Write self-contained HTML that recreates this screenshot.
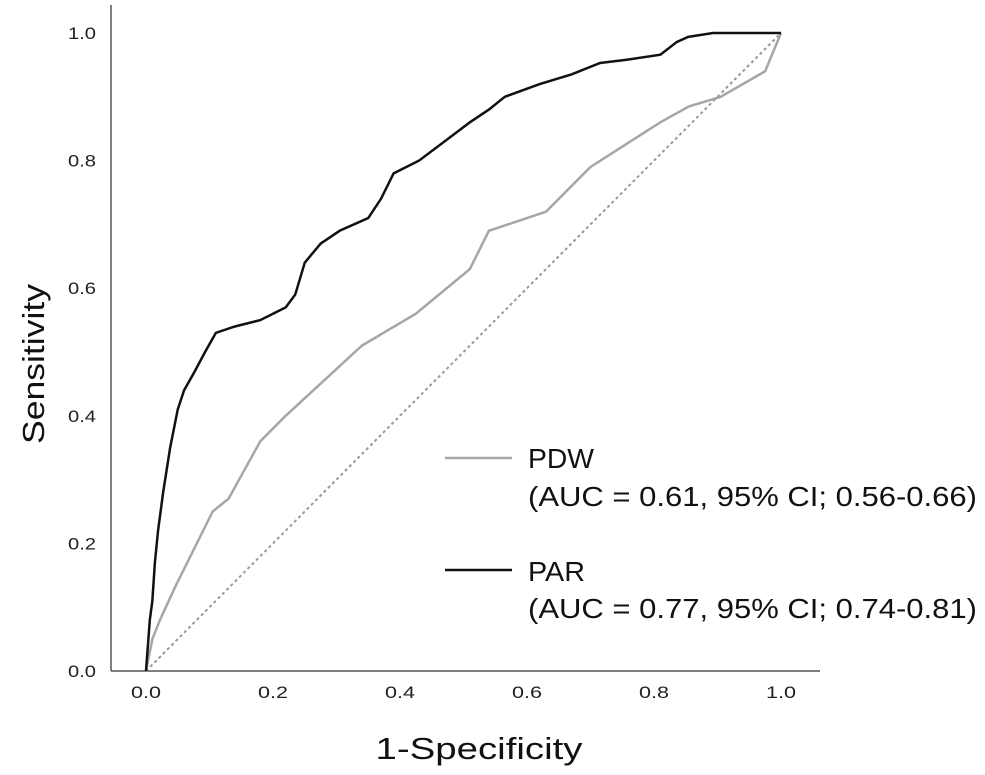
<!DOCTYPE html>
<html><head><meta charset="utf-8"><style>
body{margin:0;background:#fff;}
svg{display:block;font-family:"Liberation Sans",sans-serif;}
</style></head><body>
<svg id="c" width="985" height="775"></svg>
<script>
const xTicks=[0,0.2,0.4,0.6,0.8,1.0];
const yTicks=[0,0.2,0.4,0.6,0.8,1.0];
const parX=[0,.006,.01,.014,.019,.027,.038,.05,.06,.077,.093,.11,.14,.18,.22,.235,.25,.275,.305,.35,.37,.39,.43,.47,.51,.54,.565,.62,.67,.715,.757,.81,.836,.854,.893,1];
const parY=[0,.08,.11,.17,.22,.28,.35,.41,.44,.47,.50,.53,.54,.55,.57,.59,.64,.67,.69,.71,.74,.78,.80,.83,.86,.88,.90,.92,.935,.953,.958,.966,.986,.994,1,1];
const pdwX=[0,.01,.022,.045,.105,.13,.18,.22,.34,.425,.51,.54,.63,.70,.81,.855,.905,.975,1];
const pdwY=[0,.05,.08,.13,.25,.27,.36,.40,.51,.56,.63,.69,.72,.79,.86,.885,.90,.94,1];
const NS='http://www.w3.org/2000/svg';
const svg=document.getElementById('c');
const X=v=>146+v*635, Y=v=>671-v*638;
function mk(t,a,p){const e=document.createElementNS(NS,t);for(const k in a)e.setAttribute(k,a[k]);(p||svg).appendChild(e);return e;}
let e;
e=mk('line',{x1:111,y1:5,x2:111,y2:671,stroke:'#555','stroke-width':1.5});


e=mk('line',{x1:111,y1:671,x2:820,y2:671,stroke:'#555','stroke-width':1.5});


xTicks.forEach(t=>{e=mk('text',{x:X(t),y:698,'text-anchor':'middle','font-size':17,fill:'#222',textLength:30,lengthAdjust:'spacingAndGlyphs'});e.textContent=t.toFixed(1);

});
yTicks.forEach(t=>{e=mk('text',{x:96,y:Y(t)+6,'text-anchor':'end','font-size':17,fill:'#222',textLength:28,lengthAdjust:'spacingAndGlyphs'});e.textContent=t.toFixed(1);

});
e=mk('line',{x1:X(0),y1:Y(0),x2:X(1),y2:Y(1),stroke:'#999','stroke-width':2,'stroke-dasharray':'3,3'});


const pts=(xs,ys)=>xs.map((x,i)=>X(x)+','+Y(ys[i])).join(' ');
e=mk('polyline',{points:pts(pdwX,pdwY),fill:'none',stroke:'#a6a6a6','stroke-width':2.5});


e=mk('polyline',{points:pts(parX,parY),fill:'none',stroke:'#111','stroke-width':2.5});


</script>
<svg style="position:absolute;left:0;top:0" width="985" height="775">
<g font-family="Liberation Sans, sans-serif">
<text x="44" y="364" font-size="31" text-anchor="middle" transform="rotate(-90 44 364)" fill="#111" textLength="160" lengthAdjust="spacingAndGlyphs">Sensitivity</text>
<text x="479" y="759" font-size="31" text-anchor="middle" fill="#111" textLength="207" lengthAdjust="spacingAndGlyphs">1-Specificity</text>
<g>
<line x1="445" y1="458" x2="512" y2="458" stroke="#a6a6a6" stroke-width="2.5"/>
<text x="528" y="468" font-size="28" fill="#111" textLength="66" lengthAdjust="spacingAndGlyphs">PDW</text>
<text x="528" y="506" font-size="28" fill="#111" textLength="449" lengthAdjust="spacingAndGlyphs">(AUC = 0.61, 95% CI; 0.56-0.66)</text>
</g>
<g>
<line x1="445" y1="570" x2="512" y2="570" stroke="#111" stroke-width="2.5"/>
<text x="528" y="581" font-size="28" fill="#111" textLength="57" lengthAdjust="spacingAndGlyphs">PAR</text>
<text x="528" y="618" font-size="28" fill="#111" textLength="449" lengthAdjust="spacingAndGlyphs">(AUC = 0.77, 95% CI; 0.74-0.81)</text>
</g>
</g>
</svg>
</body></html>
